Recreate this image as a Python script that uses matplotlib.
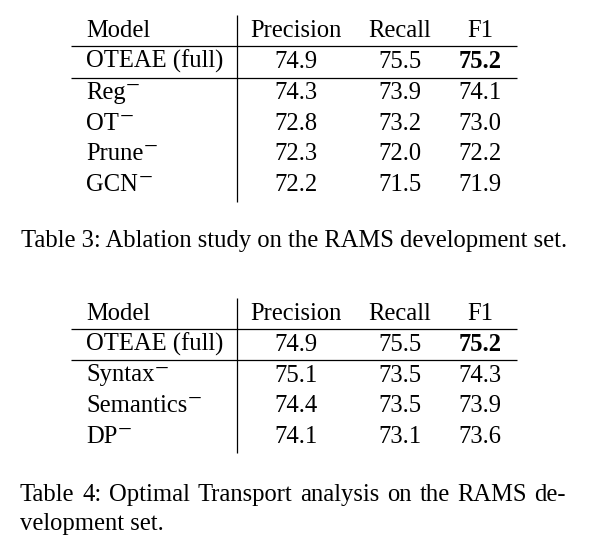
import matplotlib
matplotlib.use("Agg")
import matplotlib.pyplot as plt
from matplotlib.transforms import offset_copy

plt.rcParams['font.family'] = ['Liberation Serif', 'DejaVu Serif']

# ---- data ----
columns = ["Model", "Precision", "Recall", "F1"]

t3_models = ["OTEAE (full)", "Reg⁻", "OT⁻", "Prune⁻", "GCN⁻"]
t3_precision = [74.9, 74.3, 72.8, 72.3, 72.2]
t3_recall = [75.5, 73.9, 73.2, 72.0, 71.5]
t3_f1 = [75.2, 74.1, 73.0, 72.2, 71.9]
t3_caption = "Table 3: Ablation study on the RAMS development set."

t4_models = ["OTEAE (full)", "Syntax⁻", "Semantics⁻", "DP⁻"]
t4_precision = [74.9, 75.1, 74.4, 74.1]
t4_recall = [75.5, 73.5, 73.5, 73.1]
t4_f1 = [75.2, 74.3, 73.9, 73.6]
t4_caption = ["Table 4: Optimal Transport analysis on the RAMS de-", "velopment set."]

W, H = 590, 554
fig = plt.figure(figsize=(W / 100, H / 100), dpi=100)
ax = fig.add_axes([0, 0, 1, 1])
ax.set_xlim(0, W)
ax.set_ylim(H, 0)
ax.axis('off')
R = fig.canvas.get_renderer()

FS = 17.7
LW = 0.9
model_x = 86
col_x = [296, 400, 480]
line_x0, line_x1 = 71, 517
vline_x = 236.7


def model_label(x, yb, name):
    sup = name.endswith("⁻")
    base = name[:-1] if sup else name
    t = ax.text(x, yb, base, fontsize=FS, ha='left', va='baseline')
    if sup:
        w = t.get_window_extent(renderer=R).width
        ax.text(x + w + 0.5, yb - 6.0, "\u2212", fontsize=FS, ha='left', va='baseline')


def draw_table(top, header_base, row_bases, hlines, bottom, models, prec, rec, f1):
    ax.plot([vline_x, vline_x], [top, bottom], color='black', lw=LW, solid_capstyle='butt')
    for y in hlines:
        ax.plot([line_x0, line_x1], [y, y], color='black', lw=LW, solid_capstyle='butt')
    ax.text(model_x, header_base, columns[0], fontsize=FS, ha='left', va='baseline')
    for cx, name in zip(col_x, columns[1:]):
        ax.text(cx, header_base, name, fontsize=FS, ha='center', va='baseline')
    best = max(f1)
    for i, yb in enumerate(row_bases):
        model_label(model_x, yb, models[i])
        vals = [prec[i], rec[i], f1[i]]
        for j, (cx, v) in enumerate(zip(col_x, vals)):
            bold = (j == 2 and v == best)
            ax.text(cx, yb, f"{v:.1f}", fontsize=FS, ha='center', va='baseline',
                    fontweight='bold' if bold else 'normal')


def justified(text, x0, x1, yb):
    words = text.split(" ")
    arts = [ax.text(0, yb, w, fontsize=FS, ha='left', va='baseline') for w in words]
    widths = [a.get_window_extent(renderer=R).width for a in arts]
    gap = ((x1 - x0) - sum(widths)) / (len(words) - 1)
    x = x0
    for a, w in zip(arts, widths):
        a.set_x(x)
        x += w + gap


draw_table(15, 37, [68, 99, 130, 160, 191], [46, 78], 202,
           t3_models, t3_precision, t3_recall, t3_f1)
ax.text(294, 247, t3_caption, fontsize=FS, ha='center', va='baseline')

draw_table(298, 320, [351, 381.5, 412, 443], [329, 360], 453,
           t4_models, t4_precision, t4_recall, t4_f1)
justified(t4_caption[0], 20, 566, 501)
ax.text(20, 530, t4_caption[1], fontsize=FS, ha='left', va='baseline')

fig.savefig("out.png", dpi=100, facecolor='white')
